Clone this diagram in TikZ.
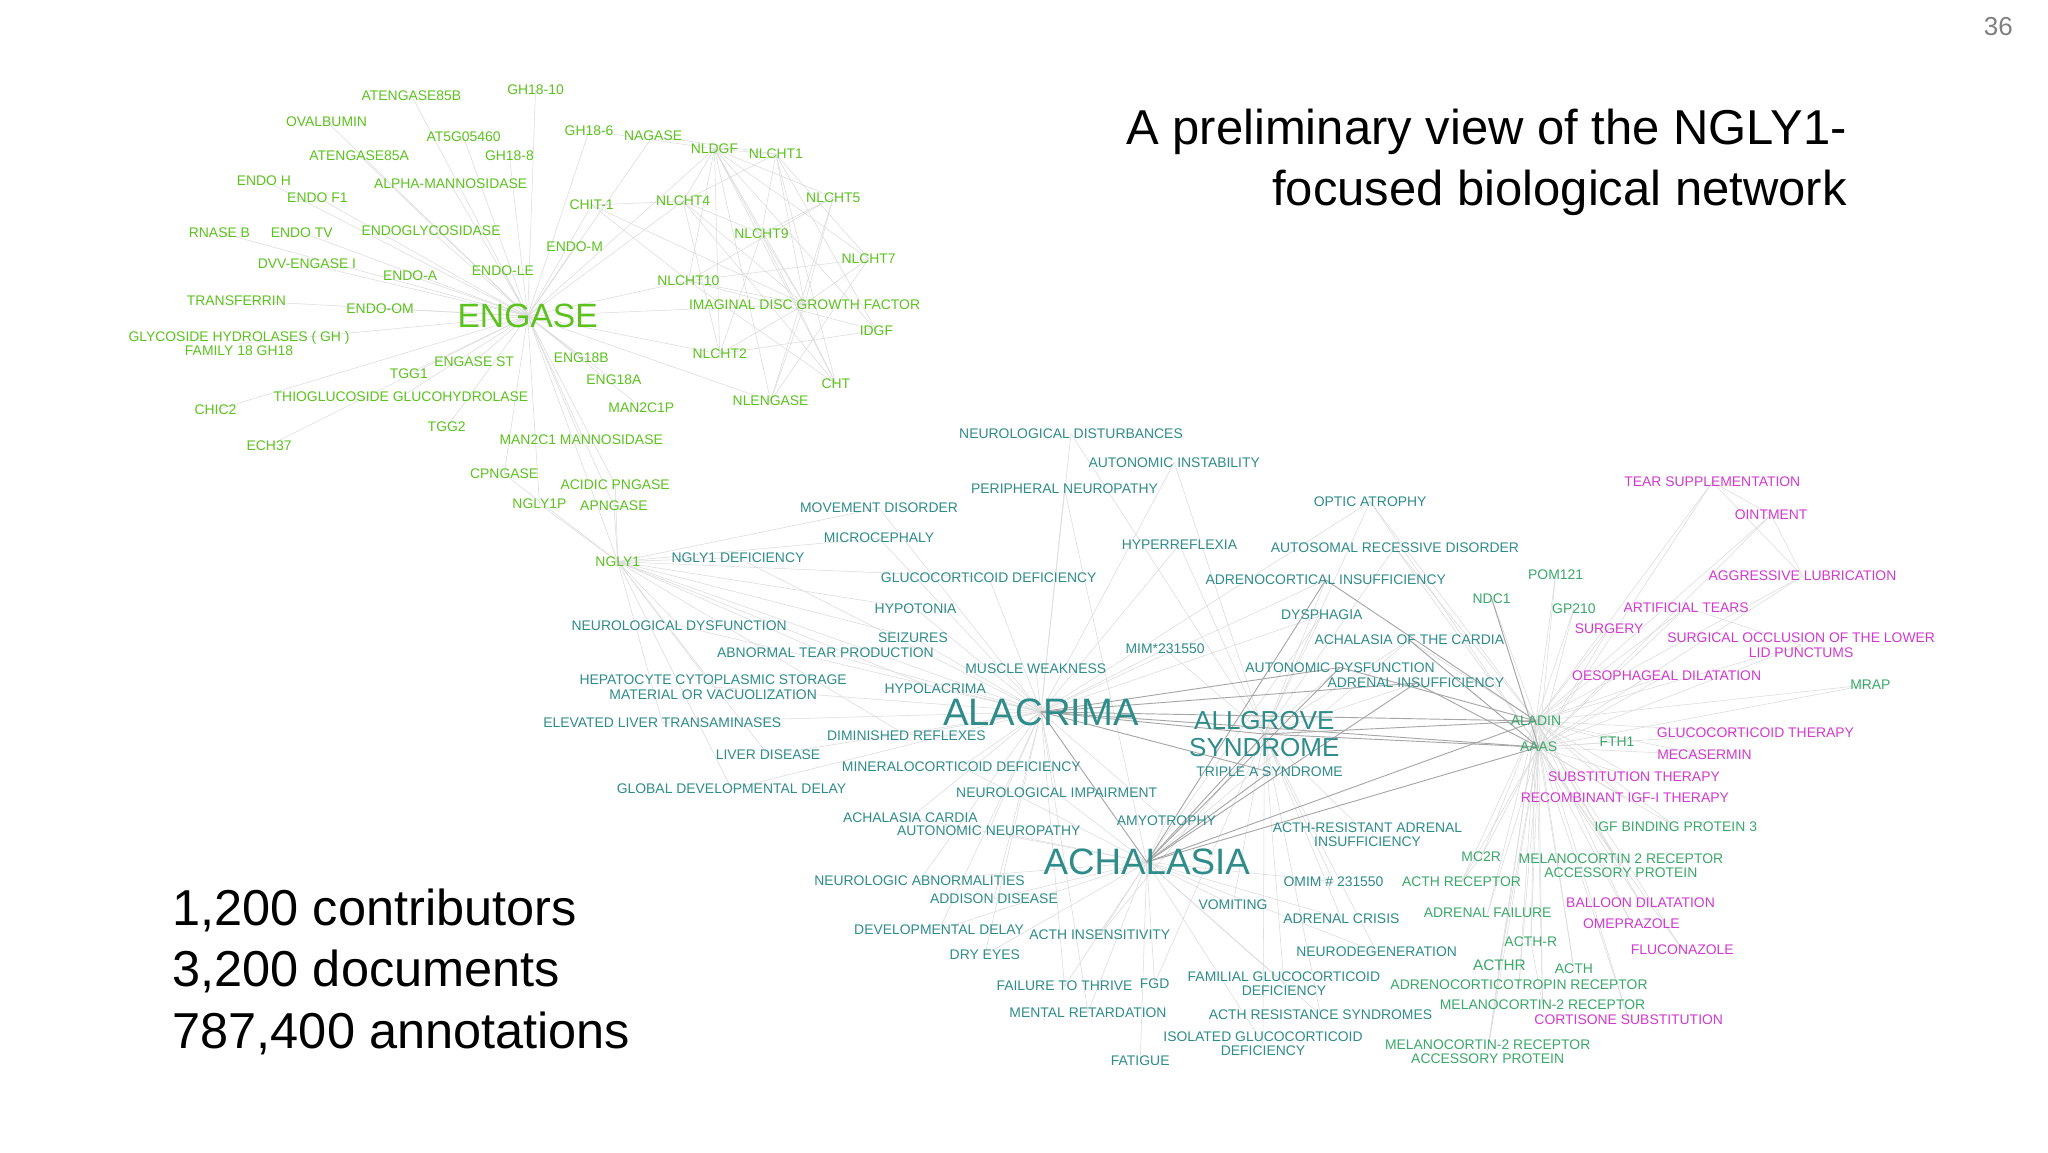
\documentclass[tikz,border=0pt]{standalone}
\usepackage{fontspec}
\setmainfont{Liberation Sans}
\usetikzlibrary{backgrounds}
\definecolor{gr}{HTML}{5CC21E}
\definecolor{te}{HTML}{2E8C8A}
\definecolor{tg}{HTML}{3AA86A}
\definecolor{mg}{HTML}{D13ACF}
\begin{document}
\begin{tikzpicture}[x=0.03cm,y=-0.03cm,
 lab/.style={inner sep=0.5pt,font=\fontsize{9.1}{9.4}\selectfont,align=center},
 g/.style={lab,text=gr}, t/.style={lab,text=te}, q/.style={lab,text=tg}, m/.style={lab,text=mg},
 ed/.style={draw=gray!28,line width=0.35pt}, hd/.style={draw=gray!70,line width=0.6pt}]
\useasboundingbox (0,0) rectangle (1568,882);
% green cluster
\node[g] (atb) at (315,73) {ATENGASE85B};
\node[g] (gh1810) at (410,69) {GH18-10};
\node[g] (oval) at (250,93) {OVALBUMIN};
\node[g] (at5) at (355,105) {AT5G05460};
\node[g] (gh186) at (451,100) {GH18-6};
\node[g] (nagase) at (500,104) {NAGASE};
\node[g] (atA) at (275,119) {ATENGASE85A};
\node[g] (gh188) at (390,119) {GH18-8};
\node[g] (nldgf) at (547,114) {NLDGF};
\node[g] (nlcht1) at (594,118) {NLCHT1};
\node[g] (endoh) at (202,138) {ENDO H};
\node[g] (alpha) at (345,141) {ALPHA-MANNOSIDASE};
\node[g] (endof) at (243,151) {ENDO F1};
\node[g] (chit) at (453,157) {CHIT-1};
\node[g] (nlcht4) at (523,154) {NLCHT4};
\node[g] (nlcht5) at (638,151) {NLCHT5};
\node[g] (rnase) at (168,178) {RNASE B};
\node[g] (endotv) at (231,178) {ENDO TV};
\node[g] (endog) at (330,177) {ENDOGLYCOSIDASE};
\node[g] (endom) at (440,189) {ENDO-M};
\node[g] (nlcht9) at (583,179) {NLCHT9};
\node[g] (dvv) at (235,202) {DVV-ENGASE I};
\node[g] (endoa) at (314,211) {ENDO-A};
\node[g] (endole) at (385,207) {ENDO-LE};
\node[g] (nlcht7) at (665,198) {NLCHT7};
\node[g] (nlcht10) at (527,215) {NLCHT10};
\node[g] (transf) at (181,230) {TRANSFERRIN};
\node[g] (endoom) at (291,236) {ENDO-OM};
\node[g,font=\fontsize{22}{24}\selectfont] (engase) at (404,242) {ENGASE};
\node[g] (imag) at (616,233) {IMAGINAL DISC GROWTH FACTOR};
\node[g] (glyco) at (183,263) {GLYCOSIDE HYDROLASES ( GH )\\FAMILY 18 GH18};
\node[g] (idgf) at (671,253) {IDGF};
\node[g] (engst) at (363,277) {ENGASE ST};
\node[g] (eng18b) at (445,274) {ENG18B};
\node[g] (nlcht2) at (551,271) {NLCHT2};
\node[g] (tgg1) at (313,286) {TGG1};
\node[g] (eng18a) at (470,291) {ENG18A};
\node[g] (cht) at (640,294) {CHT};
\node[g] (thio) at (307,304) {THIOGLUCOSIDE GLUCOHYDROLASE};
\node[g] (chic) at (165,314) {CHIC2};
\node[g] (man2c1p) at (491,312) {MAN2C1P};
\node[g] (nleng) at (590,307) {NLENGASE};
\node[g] (tgg2) at (342,327) {TGG2};
\node[g] (ech) at (206,341) {ECH37};
\node[g] (man2c1) at (445,337) {MAN2C1 MANNOSIDASE};
\node[g] (cpng) at (386,363) {CPNGASE};
\node[g] (acidic) at (471,371) {ACIDIC PNGASE};
\node[g] (ngly1p) at (413,386) {NGLY1P};
\node[g] (apng) at (470,387) {APNGASE};
\node[g] (ngly1) at (473,430) {NGLY1};
% teal cluster
\node[t] (neurdist) at (820,332) {NEUROLOGICAL DISTURBANCES};
\node[t] (autoinst) at (899,354) {AUTONOMIC INSTABILITY};
\node[t] (periph) at (815,374) {PERIPHERAL NEUROPATHY};
\node[t] (movdis) at (673,389) {MOVEMENT DISORDER};
\node[t] (optic) at (1049,384) {OPTIC ATROPHY};
\node[t] (micro) at (673,412) {MICROCEPHALY};
\node[t] (hyperr) at (903,417) {HYPERREFLEXIA};
\node[t] (autosom) at (1068,419) {AUTOSOMAL RECESSIVE DISORDER};
\node[t] (ngdef) at (565,427) {NGLY1 DEFICIENCY};
\node[t] (glucodef) at (757,442) {GLUCOCORTICOID DEFICIENCY};
\node[t] (adrinsuf) at (1015,444) {ADRENOCORTICAL INSUFFICIENCY};
\node[t] (hypot) at (701,466) {HYPOTONIA};
\node[t] (dysph) at (1012,471) {DYSPHAGIA};
\node[t] (neurdys) at (520,479) {NEUROLOGICAL DYSFUNCTION};
\node[t] (seiz) at (699,488) {SEIZURES};
\node[t] (achcard) at (1079,490) {ACHALASIA OF THE CARDIA};
\node[t] (mim) at (892,497) {MIM*231550};
\node[t] (abtear) at (632,500) {ABNORMAL TEAR PRODUCTION};
\node[t] (musc) at (793,512) {MUSCLE WEAKNESS};
\node[t] (autodys) at (1026,511) {AUTONOMIC DYSFUNCTION};
\node[t] (hepato) at (546,526) {HEPATOCYTE CYTOPLASMIC STORAGE\\MATERIAL OR VACUOLIZATION};
\node[t] (hypol) at (716,527) {HYPOLACRIMA};
\node[t] (adrins2) at (1084,523) {ADRENAL INSUFFICIENCY};
\node[t] (elev) at (507,553) {ELEVATED LIVER TRANSAMINASES};
\node[t] (dimin) at (694,563) {DIMINISHED REFLEXES};
\node[t] (liver) at (588,578) {LIVER DISEASE};
\node[t] (mineral) at (736,587) {MINERALOCORTICOID DEFICIENCY};
\node[t] (triple) at (972,591) {TRIPLE A SYNDROME};
\node[t] (global) at (560,604) {GLOBAL DEVELOPMENTAL DELAY};
\node[t] (neurimp) at (809,607) {NEUROLOGICAL IMPAIRMENT};
\node[t] (achcardia) at (697,626) {ACHALASIA CARDIA};
\node[t] (amyo) at (893,628) {AMYOTROPHY};
\node[t] (autoneur) at (757,636) {AUTONOMIC NEUROPATHY};
\node[t] (acthres) at (1047,639) {ACTH-RESISTANT ADRENAL\\INSUFFICIENCY};
\node[t] (neurab) at (704,674) {NEUROLOGIC ABNORMALITIES};
\node[t] (omim) at (1021,675) {OMIM \# 231550};
\node[t] (addison) at (761,688) {ADDISON DISEASE};
\node[t] (vomit) at (944,693) {VOMITING};
\node[t] (adrcrisis) at (1027,703) {ADRENAL CRISIS};
\node[t] (devdel) at (719,712) {DEVELOPMENTAL DELAY};
\node[t] (acthins) at (842,716) {ACTH INSENSITIVITY};
\node[t] (dry) at (754,731) {DRY EYES};
\node[t] (neurodeg) at (1054,729) {NEURODEGENERATION};
\node[t] (famgluc) at (983,753) {FAMILIAL GLUCOCORTICOID\\DEFICIENCY};
\node[t] (ftt) at (815,755) {FAILURE TO THRIVE};
\node[t] (fgd) at (884,753) {FGD};
\node[t] (mental) at (833,775) {MENTAL RETARDATION};
\node[t] (acthsyn) at (1011,777) {ACTH RESISTANCE SYNDROMES};
\node[t] (isol) at (967,799) {ISOLATED GLUCOCORTICOID\\DEFICIENCY};
\node[t] (fatigue) at (873,812) {FATIGUE};
% right cluster
\node[q] (pom) at (1191,440) {POM121};
\node[q] (ndc1) at (1142,458) {NDC1};
\node[q] (gp210) at (1205,466) {GP210};
\node[q] (aladin) at (1176,552) {ALADIN};
\node[q] (aaas) at (1178,572) {AAAS};
\node[q] (fth1) at (1238,568) {FTH1};
\node[q] (mc2r) at (1134,656) {MC2R};
\node[q] (acthrec) at (1119,675) {ACTH RECEPTOR};
\node[q] (adrfail) at (1139,699) {ADRENAL FAILURE};
\node[q] (acthr1) at (1172,721) {ACTH-R};
\node[q,font=\fontsize{10}{11}\selectfont] (acthr) at (1148,739) {ACTHR};
\node[q] (acth) at (1205,742) {ACTH};
\node[q] (adrrec) at (1163,754) {ADRENOCORTICOTROPIN RECEPTOR};
\node[q] (mel2r) at (1181,769) {MELANOCORTIN-2 RECEPTOR};
\node[q] (mel2rap) at (1139,805) {MELANOCORTIN-2 RECEPTOR\\ACCESSORY PROTEIN};
\node[q] (mel2) at (1241,663) {MELANOCORTIN 2 RECEPTOR\\ACCESSORY PROTEIN};
\node[q] (igf) at (1283,633) {IGF BINDING PROTEIN 3};
\node[q] (mrap) at (1432,524) {MRAP};
% magenta
\node[m] (tear) at (1311,369) {TEAR SUPPLEMENTATION};
\node[m] (oint) at (1356,394) {OINTMENT};
\node[m] (aggr) at (1380,441) {AGGRESSIVE LUBRICATION};
\node[m] (artear) at (1291,465) {ARTIFICIAL TEARS};
\node[m] (surg) at (1232,481) {SURGERY};
\node[m] (surgocc) at (1379,494) {SURGICAL OCCLUSION OF THE LOWER\\LID PUNCTUMS};
\node[m] (oeso) at (1276,517) {OESOPHAGEAL DILATATION};
\node[m] (glucther) at (1344,561) {GLUCOCORTICOID THERAPY};
\node[m] (mecas) at (1305,578) {MECASERMIN};
\node[m] (subst) at (1251,595) {SUBSTITUTION THERAPY};
\node[m] (recomb) at (1244,611) {RECOMBINANT IGF-I THERAPY};
\node[m] (balloon) at (1256,691) {BALLOON DILATATION};
\node[m] (omep) at (1249,707) {OMEPRAZOLE};
\node[m] (fluc) at (1288,727) {FLUCONAZOLE};
\node[m] (cort) at (1247,781) {CORTISONE SUBSTITUTION};
% hubs
\node[t,font=\fontsize{25}{27}\selectfont] (alacrima) at (797,545) {ALACRIMA};
\node[t,font=\fontsize{17}{18}\selectfont] (allgrove) at (968,562) {ALLGROVE\\SYNDROME};
\node[t,font=\fontsize{24}{26}\selectfont] (achalasia) at (878,660) {ACHALASIA};
\begin{pgfonlayer}{background}
\fill[white] (0,0) rectangle (1568,882);
\foreach \n in {atb,gh1810,oval,at5,gh186,nagase,atA,gh188,nldgf,endoh,alpha,endof,chit,nlcht4,rnase,endotv,endog,endom,dvv,endoa,endole,nlcht10,transf,endoom,imag,glyco,engst,eng18b,nlcht2,tgg1,eng18a,thio,chic,man2c1p,nleng,tgg2,ech,man2c1,cpng,acidic,ngly1p,apng,ngly1}
  \path[ed] (engase.center) -- (\n.center);
\foreach \a/\b in {nldgf/nlcht1,nldgf/nlcht4,nldgf/nlcht5,nldgf/nlcht9,nldgf/nlcht7,nldgf/nlcht10,nldgf/imag,nldgf/idgf,nldgf/nlcht2,nldgf/cht,nldgf/nleng,nlcht1/nlcht4,nlcht1/nlcht9,nlcht1/nlcht7,nlcht1/imag,nlcht1/idgf,nlcht1/cht,nlcht4/nlcht9,nlcht4/imag,nlcht4/nlcht2,nlcht4/cht,nlcht5/nlcht9,nlcht5/imag,nlcht5/nlcht10,nlcht5/nleng,nlcht9/imag,nlcht9/nlcht2,nlcht9/cht,nlcht7/imag,nlcht7/nlcht10,nlcht7/nleng,nlcht10/imag,nlcht10/idgf,nlcht10/cht,imag/nlcht2,imag/nleng,idgf/nlcht2,chit/nlcht4,chit/nlcht10,chit/imag,gh186/nldgf,nagase/nlcht1,acidic/ngly1,apng/ngly1,ngly1p/ngly1,cpng/ngly1}
  \path[ed] (\a.center) -- (\b.center);
\foreach \n in {neurdist,autoinst,periph,movdis,micro,hyperr,ngdef,glucodef,hypot,neurdys,seiz,mim,abtear,musc,hepato,hypol,elev,dimin,liver,mineral,global,neurimp,achcardia,amyo,autoneur,neurab,addison,devdel,dry,ftt,mental,ngly1,optic,adrinsuf,dysph}
  \path[ed] (alacrima.center) -- (\n.center);
\foreach \n in {optic,autosom,adrinsuf,dysph,achcard,autodys,adrins2,triple,acthres,omim,vomit,adrcrisis,neurodeg,famgluc,acthsyn,isol,fgd,acthins,hyperr,autoinst,neurdist,mim}
  \path[ed] (allgrove.center) -- (\n.center);
\foreach \n in {neurab,omim,addison,vomit,adrcrisis,devdel,acthins,dry,neurodeg,famgluc,ftt,fgd,mental,acthsyn,isol,fatigue,amyo,autoneur,achcardia,neurimp,dysph,achcard,periph,mineral}
  \path[ed] (achalasia.center) -- (\n.center);
\foreach \n in {pom,ndc1,gp210,fth1,mc2r,acthrec,adrfail,acthr1,acthr,acth,adrrec,mel2r,mel2rap,mel2,igf,mrap,tear,oint,aggr,artear,surg,surgocc,oeso,glucther,mecas,subst,recomb,balloon,omep,fluc,cort,autosom,optic,achcard}
  {\path[ed] (aaas.center) -- (\n.center); \path[ed] (aladin.center) -- (\n.center);}
\foreach \a/\b in {ngly1/ngdef,ngly1/neurdys,ngly1/movdis,ngly1/micro,ngly1/hepato,ngly1/elev,ngly1/global,ngly1/liver,ngly1/abtear,ngly1/seiz,ngly1/hypot,ngly1/glucodef,ngly1/dimin,ngly1/hypol,mel2rap/acthr,mel2r/acthr1,mc2r/acthrec,oint/tear,oint/aggr,tear/aggr,surgocc/artear}
  \path[ed] (\a.center) -- (\b.center);
\foreach \a/\b in {alacrima/allgrove,alacrima/achalasia,allgrove/achalasia,alacrima/aaas,alacrima/aladin,allgrove/aaas,allgrove/aladin,achalasia/aaas,achalasia/aladin,achalasia/adrins2,alacrima/adrins2,alacrima/autodys,achalasia/autodys,achalasia/triple,aaas/adrins2,aladin/autodys,aaas/achcard,alacrima/triple,aaas/ndc1,aladin/adrinsuf,achalasia/adrinsuf}
  \path[hd] (\a.center) -- (\b.center);
\end{pgfonlayer}
% texts
\node[anchor=east,align=right,font=\fontsize{32}{40}\selectfont] (title) at (1418,124) {A preliminary view of the NGLY1-\\focused biological network};
\node[anchor=west,align=left,font=\fontsize{33}{40}\selectfont] (stats) at (128,744) {1,200 contributors\\3,200 documents\\787,400 annotations};
\node[text=gray,font=\fontsize{17}{18}\selectfont] (pg) at (1530,20) {36};
\end{tikzpicture}
\end{document}
